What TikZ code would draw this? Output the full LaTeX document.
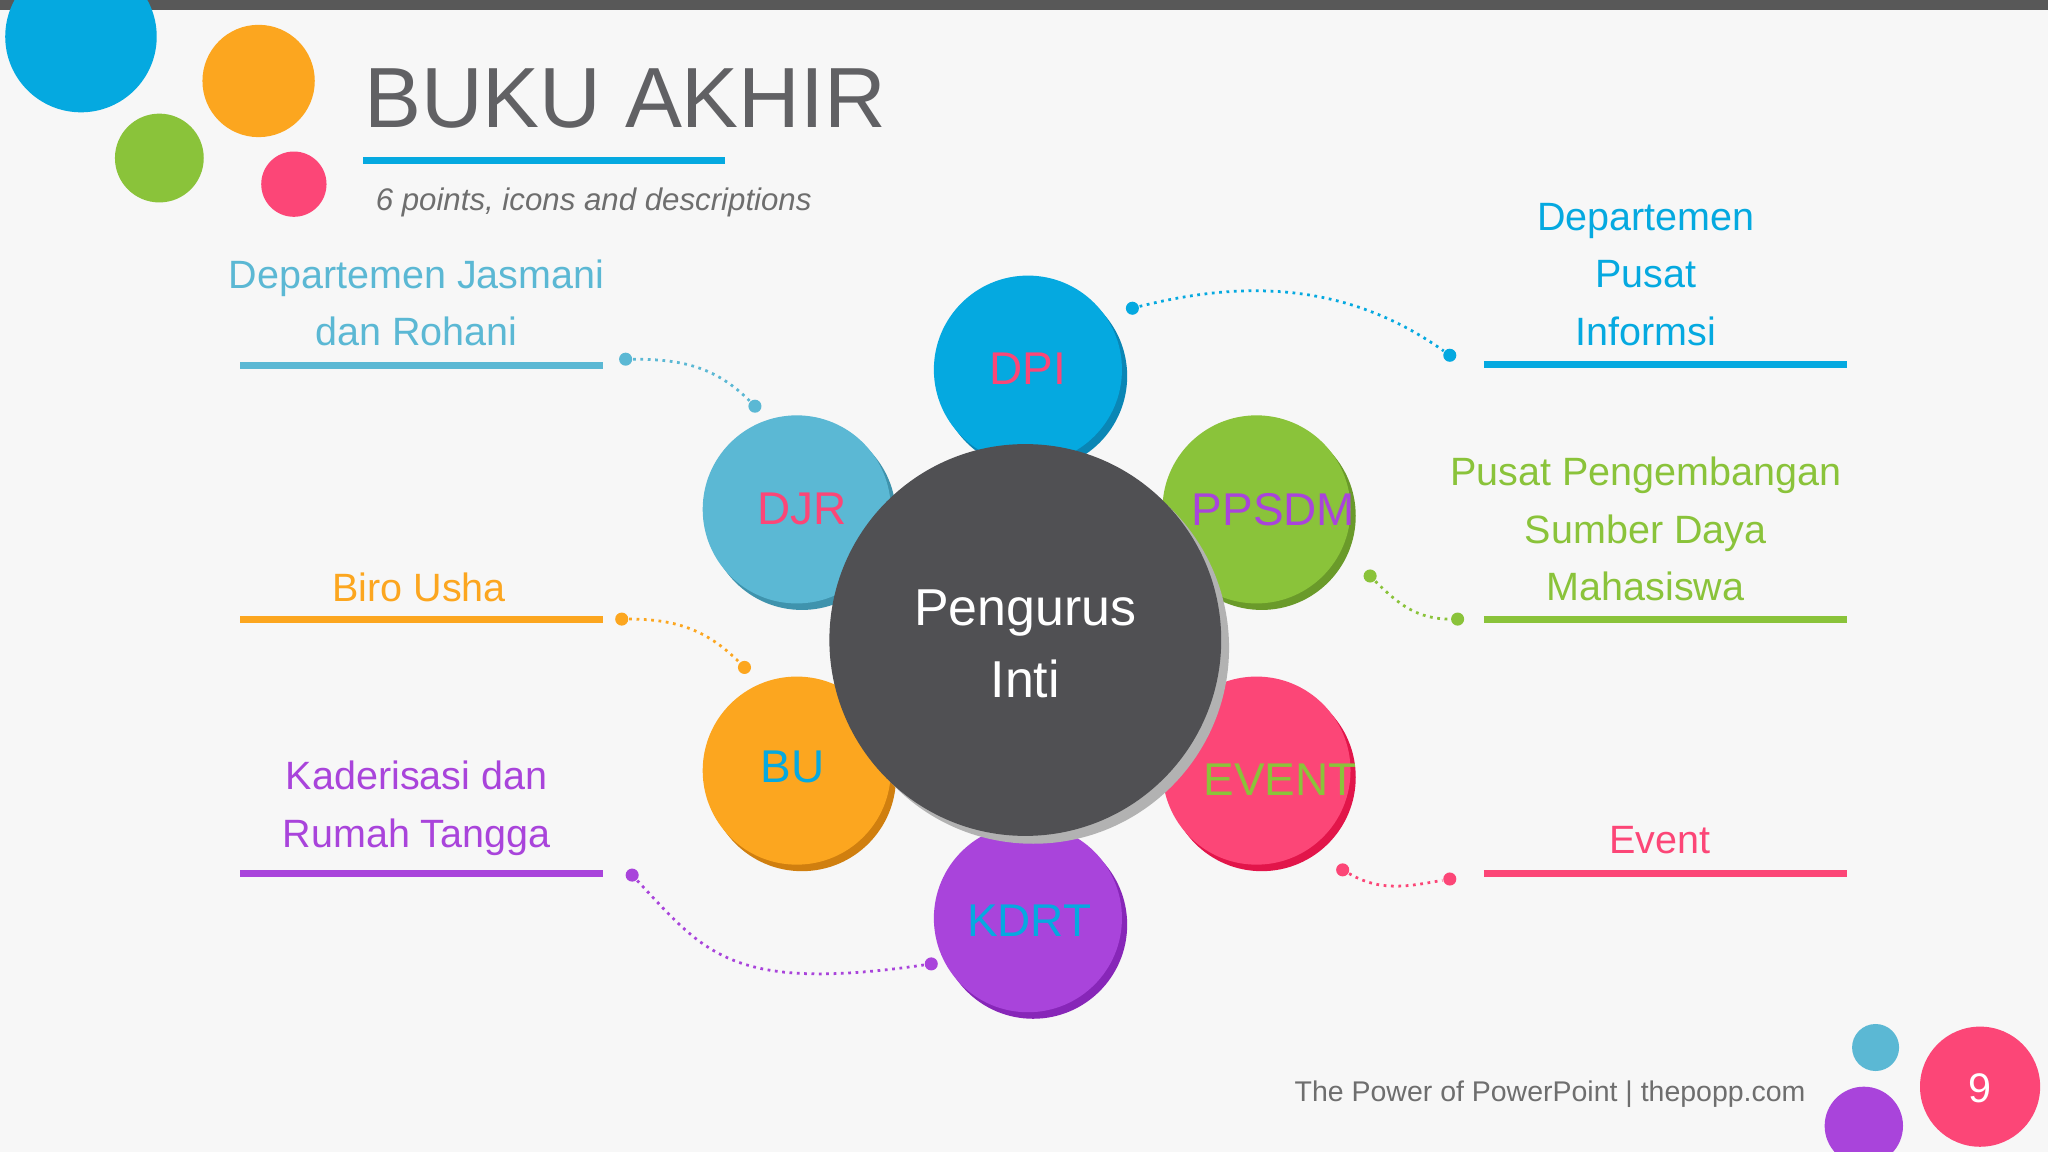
\documentclass[tikz,border=0pt]{standalone}
\usepackage{fontspec}
\setmainfont{Liberation Sans}
\definecolor{bg}{HTML}{F7F7F7}
\definecolor{cblue}{HTML}{05A9E0}
\definecolor{cblueD}{HTML}{0A86B5}
\definecolor{cteal}{HTML}{5BB8D4}
\definecolor{ctealD}{HTML}{3F93AD}
\definecolor{cgreen}{HTML}{8AC33A}
\definecolor{cgreenD}{HTML}{6A9A2A}
\definecolor{corange}{HTML}{FCA61F}
\definecolor{corangeD}{HTML}{D07F0F}
\definecolor{cpink}{HTML}{FC4677}
\definecolor{cpinkD}{HTML}{E2154A}
\definecolor{cpurple}{HTML}{A944DB}
\definecolor{cpurpleD}{HTML}{8726B8}
\definecolor{cdark}{HTML}{505053}
\definecolor{cgrey}{HTML}{6E6E6E}
\tikzset{
  lab/.style={font=\fontsize{8.6pt}{12.5pt}\selectfont, align=center, inner sep=0},
  plab/.style={font=\fontsize{10pt}{12pt}\selectfont, inner sep=0},
  uline/.style={line width=1.5pt},
  dotn/.style={circle, fill=#1, inner sep=0, minimum size=0.1cm},
  conn/.style={densely dotted, line width=0.6pt, draw=#1},
}
\begin{document}
\begin{tikzpicture}[x=0.01cm,y=-0.01cm]
\fill[bg] (0,0) rectangle (1568,882);
\useasboundingbox (0,0) rectangle (1568,882);
\fill[cgrey!80!black] (0,0) rectangle (1568,8);
% decorative circles
\fill[cblue] (62,28) circle (58);
\fill[corange] (198,62) circle (43);
\fill[cgreen] (122,121) circle (34);
\fill[cpink] (225,141) circle (25);
% title
\node[anchor=base west, inner sep=0, text=cdark!90, font=\fontsize{18.6pt}{22pt}\selectfont] (title) at (278,98) {BUKU AKHIR};
\draw[cblue, line width=1.5pt] (278,123) -- (555,123);
\node[anchor=base west, inner sep=0, text=cgrey, font=\fontsize{6.8pt}{8pt}\itshape] (sub) at (287,161) {6 points, icons and descriptions};
% petals
\foreach \n/\x/\y/\c/\t/\tc/\lx/\ly in {dpi/787/283/cblue/DPI/cpink/787/282, djr/610/390/cteal/DJR/cpink/614/390, ppsdm/962/390/cgreen/PPSDM/cpurple/975/390, bu/610/590/corange/BU/cblue/607/587, event/962/590/cpink/EVENT/cgreen/980/597, kdrt/787/703/cpurple/KDRT/cblue/788/705}{
  \fill[\c D] (\x+4,\y+5) circle (72);
  \fill[\c] (\x,\y) circle (72);
  \node[plab, text=\tc] (\n) at (\lx,\ly) {\t};
}
% center
\fill[black!30] (791,496) circle (150);
\fill[cdark] (785,490) circle (150);
\node[text=white, align=center, font=\fontsize{11.3pt}{15.5pt}\selectfont, inner sep=0] (core) at (785,493) {Pengurus\\Inti};
% left labels
\node[lab, text=cteal] (tdjr) at (319,232) {Departemen Jasmani\\dan Rohani};
\draw[uline, cteal] (184,280) -- (462,280);
\node[lab, text=corange] (tbu) at (321,450) {Biro Usha};
\draw[uline, corange] (184,474) -- (462,474);
\node[lab, text=cpurple] (tkd) at (319,619) {Kaderisasi dan\\Rumah Tangga};
\draw[uline, cpurple] (184,669) -- (462,669);
% right labels
\node[lab, text=cblue] (tdpi) at (1260,210) {Departemen\\Pusat\\Informsi};
\draw[uline, cblue] (1136,279) -- (1414,279);
\node[lab, text=cgreen] (tps) at (1260,405) {Pusat Pengembangan\\Sumber Daya\\Mahasiswa};
\draw[uline, cgreen] (1136,474) -- (1414,474);
\node[lab, text=cpink] (tev) at (1271,643) {Event};
\draw[uline, cpink] (1136,669) -- (1414,669);
% connectors
\node[dotn=cteal] (a1) at (479,275) {}; \node[dotn=cteal] (a2) at (578,311) {};
\draw[conn=cteal] (a1) to[out=0,in=135] (a2);
\node[dotn=cblue] (b1) at (867,236) {}; \node[dotn=cblue] (b2) at (1110,272) {};
\draw[conn=cblue] (b1) .. controls (950,215) and (1030,215) .. (b2);
\node[dotn=cgreen] (c1) at (1049,441) {}; \node[dotn=cgreen] (c2) at (1116,474) {};
\draw[conn=cgreen] (c1) to[out=-45,in=180] (c2);
\node[dotn=corange] (d1) at (476,474) {}; \node[dotn=corange] (d2) at (570,511) {};
\draw[conn=corange] (d1) to[out=0,in=135] (d2);
\node[dotn=cpink] (e1) at (1028,666) {}; \node[dotn=cpink] (e2) at (1110,673) {};
\draw[conn=cpink] (e1) to[out=-30,in=190] (e2);
\node[dotn=cpurple] (f1) at (484,670) {}; \node[dotn=cpurple] (f2) at (713,738) {};
\draw[conn=cpurple] (f1) .. controls (540,730) and (560,760) .. (f2);
% footer
\node[anchor=base east, inner sep=0, text=cgrey, font=\fontsize{6.2pt}{8pt}\selectfont] (foot) at (1383,843) {The Power of PowerPoint | thepopp.com};
\fill[cteal] (1436,802) circle (18);
\fill[cpurple] (1427,862) circle (30);
\fill[cpink] (1516,832) circle (46);
\node[text=white, inner sep=0, font=\fontsize{9pt}{10pt}\selectfont] (pg) at (1516,833) {9};
\end{tikzpicture}
\end{document}
